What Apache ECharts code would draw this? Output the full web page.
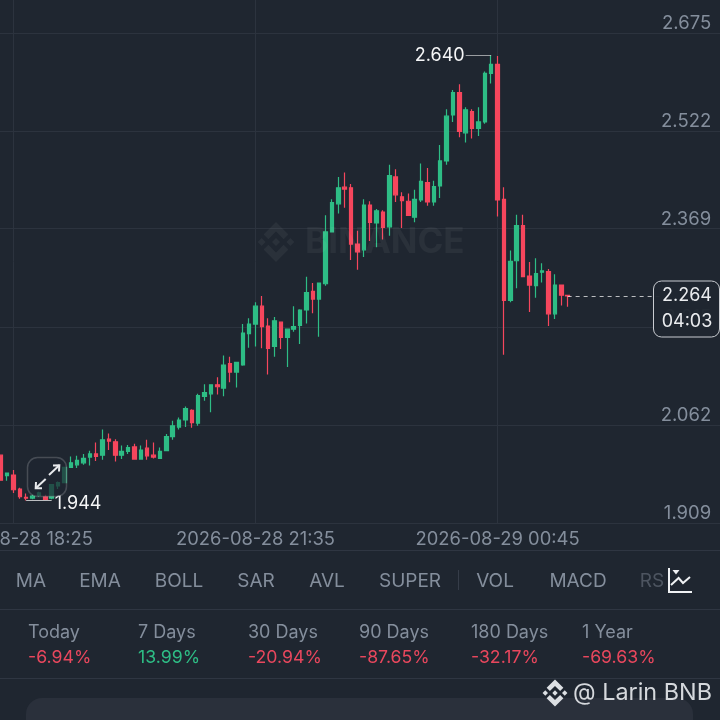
<!DOCTYPE html>
<html>
<head>
<meta charset="utf-8">
<style>html,body{margin:0;padding:0;background:#1f2630;}#c{width:720px;height:720px;}</style>
<script src="https://cdn.jsdelivr.net/npm/echarts@6/dist/echarts.min.js"></script>
</head>
<body>
<div id="c"></div>
<script>
const opens = [2.015,1.983,1.984,1.962,1.949,1.948,1.952,1.950,1.948,1.967,1.972,1.996,2.000,2.003,2.012,2.017,2.015,2.040,2.036,2.015,2.021,2.028,2.009,2.026,2.015,2.010,2.022,2.044,2.059,2.070,2.085,2.065,2.107,2.111,2.125,2.120,2.158,2.145,2.156,2.205,2.220,2.248,2.217,2.185,2.223,2.199,2.212,2.218,2.242,2.271,2.259,2.283,2.364,2.408,2.434,2.433,2.345,2.336,2.406,2.378,2.395,2.372,2.450,2.419,2.412,2.387,2.414,2.441,2.411,2.436,2.475,2.547,2.582,2.519,2.552,2.526,2.536,2.612,2.626,2.415,2.257,2.319,2.374,2.295,2.280,2.301,2.302,2.236,2.281,2.265];
const closes = [1.976,1.987,1.961,1.950,1.948,1.951,1.956,1.946,1.969,1.972,1.996,2.003,2.007,2.010,2.017,2.013,2.039,2.037,2.015,2.021,2.027,2.009,2.023,2.014,2.012,2.021,2.044,2.061,2.070,2.088,2.066,2.108,2.113,2.125,2.122,2.156,2.145,2.160,2.206,2.220,2.248,2.216,2.182,2.225,2.199,2.212,2.216,2.242,2.269,2.259,2.284,2.364,2.410,2.433,2.431,2.345,2.333,2.406,2.379,2.397,2.371,2.452,2.422,2.413,2.390,2.415,2.443,2.411,2.435,2.475,2.545,2.582,2.521,2.555,2.526,2.536,2.612,2.626,2.414,2.257,2.318,2.374,2.294,2.281,2.299,2.303,2.236,2.281,2.265,2.264];
const lows = [1.975,1.975,1.956,1.947,1.944,1.946,1.950,1.945,1.946,1.962,1.971,1.995,1.995,2.000,1.999,2.006,2.008,2.023,2.005,2.009,2.017,2.009,2.008,2.008,2.010,2.009,2.021,2.039,2.055,2.059,2.058,2.061,2.100,2.082,2.110,2.107,2.129,2.121,2.155,2.183,2.185,2.182,2.141,2.169,2.181,2.153,2.208,2.189,2.221,2.237,2.200,2.280,2.363,2.393,2.402,2.320,2.305,2.325,2.350,2.340,2.352,2.358,2.411,2.370,2.389,2.379,2.411,2.405,2.405,2.417,2.469,2.536,2.512,2.504,2.510,2.514,2.533,2.596,2.388,2.172,2.254,2.276,2.293,2.239,2.261,2.285,2.217,2.228,2.249,2.247];
const highs = [2.015,1.988,1.992,1.964,1.955,1.953,1.958,1.953,1.970,1.974,1.997,2.013,2.014,2.017,2.022,2.035,2.055,2.049,2.040,2.030,2.031,2.033,2.030,2.039,2.035,2.027,2.048,2.069,2.074,2.091,2.087,2.111,2.126,2.126,2.137,2.171,2.169,2.161,2.220,2.229,2.254,2.264,2.229,2.231,2.224,2.213,2.248,2.243,2.294,2.284,2.285,2.390,2.415,2.450,2.457,2.439,2.366,2.415,2.412,2.400,2.398,2.469,2.462,2.426,2.424,2.430,2.471,2.464,2.444,2.500,2.556,2.586,2.595,2.559,2.556,2.559,2.615,2.640,2.639,2.434,2.335,2.391,2.391,2.317,2.323,2.315,2.306,2.298,2.282,2.266];
const priceTicks = [1.909,2.062,2.215,2.369,2.522,2.675];
const highLabel = 2.640, lowLabel = 1.944, lastPrice = 2.264, countdown = '04:03';
const tabLabels = ['MA','EMA','BOLL','SAR','AVL','SUPER','VOL','MACD','RS'];
const statLabels = ['Today','7 Days','30 Days','90 Days','180 Days','1 Year'];
const statValues = ['-6.94%','13.99%','-20.94%','-87.65%','-32.17%','-69.63%'];

const BG='#1f2630', UP='#2ebd85', DOWN='#f6465d', GREY='#848e9c', GRID='#2c333e';
const FONT='Inter, "Noto Sans", sans-serif';

// 5-minute bars starting 2026-08-28 18:15, with empty room to the right
const categories=[];
for(let i=0;i<114;i++){
  const t=new Date(Date.UTC(2026,7,28,18,15+5*i));
  const p=n=>String(n).padStart(2,'0');
  categories.push(`${t.getUTCFullYear()}-${p(t.getUTCMonth()+1)}-${p(t.getUTCDate())} ${p(t.getUTCHours())}:${p(t.getUTCMinutes())}`);
}
const candles=opens.map((o,i)=>[o,closes[i],lows[i],highs[i]]);
const every38=i=>(i-2)%38===0;

function txt(x,y,text,size,fill,align,extra){
  return {type:'text',silent:true,style:Object.assign({x,y,text,fill,font:`${size}px ${FONT}`,align:align||'left',verticalAlign:'middle'},extra||{})};
}
function logo(cx,cy,r,fill){
  const sets=[
    [[0,-.2],[.2,0],[0,.2],[-.2,0]],
    [[-.72,-.2],[-.52,0],[-.72,.2],[-.92,0]],
    [[.72,-.2],[.92,0],[.72,.2],[.52,0]],
    [[0,-1],[.62,-.38],[.38,-.14],[0,-.52],[-.38,-.14],[-.62,-.38]],
    [[0,1],[.62,.38],[.38,.14],[0,.52],[-.38,.14],[-.62,.38]]
  ];
  return sets.map(s=>({type:'polygon',silent:true,shape:{points:s.map(p=>[cx+p[0]*r,cy+p[1]*r])},style:{fill}}));
}
function line(x1,y1,x2,y2,stroke,w){
  return {type:'line',silent:true,shape:{x1,y1,x2,y2},style:{stroke,lineWidth:w||1}};
}
function poly(points,stroke,w){
  return {type:'polyline',silent:true,shape:{points},style:{stroke,lineWidth:w,fill:null}};
}

const tabX=[31,100,179,256,327,410,495,578,652];
const statX=[28,138,248,359,471,582];
const g=[];
// watermark
g.push(...logo(276,242,20,'rgba(255,255,255,0.05)'));
g.push(txt(305,242,'BINANCE',35,'rgba(255,255,255,0.05)','left',{font:`700 35px ${FONT}`}));
// expand button
g.push({type:'rect',silent:true,shape:{x:27.5,y:457.5,width:39,height:39,r:10},style:{fill:'rgba(31,38,48,0.72)',stroke:'rgba(255,255,255,0.18)',lineWidth:1.5}});
g.push(poly([[49,475],[59.3,465.3]],'#e8eaed',2));
g.push(poly([[53,465.5],[59.3,465.3],[59,471.5]],'#e8eaed',2));
g.push(poly([[45.7,479],[35.7,488.3]],'#e8eaed',2));
g.push(poly([[36,482],[35.7,488.3],[42,488.3]],'#e8eaed',2));
// price box
g.push({type:'rect',silent:true,shape:{x:653.5,y:281,width:66,height:56,r:8},style:{fill:'rgba(31,38,48,0.96)',stroke:'#c9ccd1',lineWidth:1}});
g.push(txt(687,296,lastPrice.toFixed(3),18,'#eaecef','center'));
g.push(txt(687,322,countdown,18,'#eaecef','center'));
// panel lines
g.push(line(0,550.5,720,550.5,'#2f3642'));
g.push(line(0,609.5,720,609.5,'#2f3642'));
g.push(line(0,678.5,720,678.5,'#2f3642'));
g.push(line(458.5,570,458.5,590,'#363d49'));
// tabs
tabLabels.forEach((t,i)=>g.push(txt(tabX[i],581,t,19,i===8?'rgba(132,142,156,0.45)':GREY,'center')));
// indicator icon
g.push(poly([[669,568],[669,592],[692,592]],'#f0f2f4',2));
g.push(poly([[671,585],[678.6,578],[683,583],[690,577]],'#f0f2f4',2));
g.push({type:'polygon',silent:true,shape:{points:[[672.5,570],[679.5,570],[676,574.5]]},style:{fill:'#f0f2f4'}});
// stats
statLabels.forEach((t,i)=>g.push(txt(statX[i],633,t,18,GREY)));
statValues.forEach((t,i)=>g.push(txt(statX[i],658,t,17.7,t[0]==='-'?'#e8475d':UP)));
// lower panel
g.push({type:'rect',silent:true,shape:{x:26,y:698,width:667,height:60,r:16},style:{fill:'#2a303b'}});
// attribution
g.push(...logo(555,693,13.5,'#dcdfe3'));
g.push(txt(573,693,'@ Larin BNB',23.4,'#d5d8dc'));
g.forEach(e=>{e.z=50;e.zlevel=1;});

const chart=echarts.init(document.getElementById('c'),null,{renderer:'canvas'});
chart.setOption({
  animation:false,
  backgroundColor:BG,
  grid:{left:-2.5,top:0,width:726.2,height:523,containLabel:false,outerBoundsMode:'none'},
  xAxis:{
    type:'category',data:categories,boundaryGap:true,
    axisLine:{show:false},axisTick:{show:false,alignWithLabel:true},
    axisLabel:{interval:(i)=>every38(i),color:GREY,fontSize:18.4,fontFamily:FONT,margin:7},
    splitLine:{show:true,alignWithLabel:true,interval:(i)=>every38(i),lineStyle:{color:GRID,width:1}}
  },
  yAxis:{
    type:'value',position:'right',min:1.909,max:2.7266,
    axisLine:{show:false},
    axisTick:{show:false,customValues:priceTicks},
    axisLabel:{inside:true,customValues:priceTicks,margin:12.5,color:GREY,fontSize:18.5,fontFamily:FONT,verticalAlign:'bottom',formatter:v=>v.toFixed(3)},
    splitLine:{show:true,lineStyle:{color:GRID,width:1}}
  },
  series:[{
    type:'candlestick',data:candles,barWidth:4,clip:false,
    itemStyle:{color:UP,color0:DOWN,borderColor:UP,borderColor0:DOWN,borderWidth:1.2},
    markLine:{
      silent:true,symbol:['none','none'],animation:false,
      data:[
        [{xAxis:73,yAxis:highLabel,lineStyle:{color:'rgba(255,255,255,0.55)',width:1,type:'solid'},label:{show:true,position:'start',distance:1,formatter:highLabel.toFixed(3),color:'#f5f6f7',fontSize:18,fontFamily:FONT}},{xAxis:77,yAxis:highLabel}],
        [{xAxis:4,yAxis:lowLabel,lineStyle:{color:'rgba(255,255,255,0.7)',width:1,type:'solid'},label:{show:true,position:'end',distance:3,offset:[0,3],formatter:lowLabel.toFixed(3),color:'#f5f6f7',fontSize:18,fontFamily:FONT}},{xAxis:8,yAxis:lowLabel}],
        [{xAxis:89,yAxis:lastPrice,lineStyle:{color:'rgba(255,255,255,0.7)',width:1,type:[4,4]},label:{show:false}},{xAxis:104,yAxis:lastPrice}]
      ]
    }
  }],
  graphic:{z:50,zlevel:1,elements:g}
});
</script>
</body>
</html>
